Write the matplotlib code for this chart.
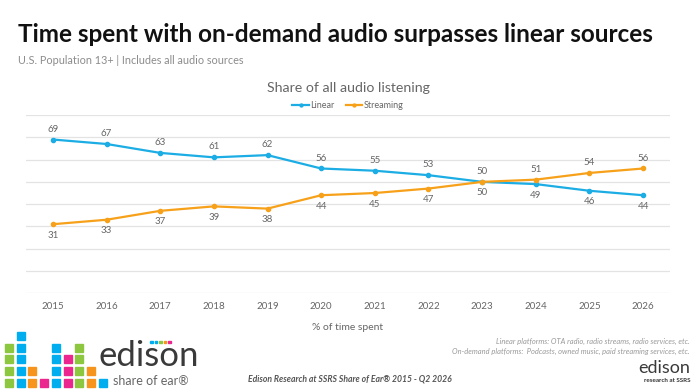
import matplotlib.pyplot as plt
from matplotlib.patches import Rectangle

years = ['2015', '2016', '2017', '2018', '2019', '2020', '2021', '2022', '2023', '2024', '2025', '2026']
linear = [69, 67, 63, 61, 62, 56, 55, 53, 50, 49, 46, 44]
streaming = [31, 33, 37, 39, 38, 44, 45, 47, 50, 51, 54, 56]

blue = '#1cade4'
orange = '#f7a11a'
gray = '#666666'

plt.rcParams['font.family'] = ['Lato', 'DejaVu Sans']

fig = plt.figure(figsize=(6.96, 3.92), dpi=100)
ax = fig.add_axes([0.0374, 0.2518, 0.9252, 0.4548])

x = list(range(len(years)))
ax.plot(x, linear, color=blue, lw=1.6, marker='o', ms=3, label='Linear')
ax.plot(x, streaming, color=orange, lw=1.6, marker='o', ms=3, label='Streaming')

# labels go above the higher series, below the lower one
for i in x:
    lin_up = linear[i] > streaming[i]
    ax.annotate(str(linear[i]), (i, linear[i]), xytext=(0, 7.5 if lin_up else -8),
                textcoords='offset points', ha='center', va='center', fontsize=7, color=gray)
    ax.annotate(str(streaming[i]), (i, streaming[i]), xytext=(0, -8 if lin_up else 7.5),
                textcoords='offset points', ha='center', va='center', fontsize=7, color=gray)

ax.set_xlim(-0.5, len(years) - 0.5)
ax.set_ylim(0, 80)
ax.set_yticks(range(0, 81, 10))
ax.set_yticklabels([])
ax.set_xticks(x)
ax.set_xticklabels(years)
ax.tick_params(axis='both', length=0, labelsize=7, colors=gray)
ax.tick_params(axis='x', pad=6)
ax.grid(axis='y', color='#e3e3e3', lw=0.9)
ax.set_axisbelow(True)
for s in ax.spines.values():
    s.set_visible(False)

fig.legend(loc='center', bbox_to_anchor=(0.5, 1 - 106 / 392), ncol=2, frameon=False,
           fontsize=6.5, labelcolor=gray, handlelength=1.8, handletextpad=0.2,
           columnspacing=1.2, markerscale=0.7)

# titles
fig.text(18 / 696, 1 - 35 / 392, 'Time spent with on-demand audio surpasses linear sources',
         fontsize=17.5, fontweight='bold', color='#111111', va='center')
fig.text(18 / 696, 1 - 60 / 392, 'U.S. Population 13+ | Includes all audio sources',
         fontsize=7.8, color='#8c8c8c', va='center')
fig.text(0.5, 1 - 88 / 392, 'Share of all audio listening', fontsize=10.2, color=gray,
         ha='center', va='center')
fig.text(0.5, 1 - 327 / 392, '% of time spent', fontsize=7.5, color=gray, ha='center', va='center')

# footnotes
fig.text(690 / 696, 1 - 341 / 392, 'Linear platforms: OTA radio, radio streams, radio services, etc.',
         fontsize=5.4, color='#999999', style='italic', ha='right', va='center')
fig.text(690 / 696, 1 - 351 / 392,
         'On-demand platforms:  Podcasts, owned music, paid streaming services, etc.',
         fontsize=5.4, color='#999999', style='italic', ha='right', va='center')
fig.text(248 / 696, 1 - 379 / 392, 'Edison Research at SSRS Share of Ear\u00ae 2015 - Q2 2026',
         fontsize=6.2, color='#555555', style='italic', fontweight='bold', va='center')

# edison share of ear logo
green, cyan, lorange, pink = '#8dc63f', '#00aeef', '#f7941d', '#ec268f'
cols = [(green, 4), (cyan, 5), (lorange, 2), (pink, 1), (cyan, 4),
        (pink, 3), (green, 4), (lorange, 2), (cyan, 1)]
W, H = 696, 392
for c, (col, h) in enumerate(cols):
    for r in range(h):
        cx = 5 + c * 11.7
        cy = H - (386.5 - r * 11.6)
        fig.patches.append(Rectangle((cx / W, cy / H), 8 / W, 8 / H, color=col,
                                     transform=fig.transFigure, figure=fig))
fig.text(99 / W, 1 - 366 / H, 'edison', fontsize=25, color='#3a3a3a', va='baseline')
fig.text(113 / W, 1 - 381 / H, 'share of ear\u00ae', fontsize=9, color='#666666', va='center')
for k, dc in enumerate([cyan, cyan, green, lorange, pink]):
    fig.patches.append(Rectangle(((150 + k * 4.5) / W, 1 - 343 / H), 2.5 / W, 2.5 / H, color=dc,
                                 transform=fig.transFigure, figure=fig))

# edison research at ssrs logo
fig.text(690 / W, 1 - 368 / H, 'edison', fontsize=13, color='#3a3a3a', ha='right', va='center')
fig.text(690 / W, 1 - 380 / H, 'research at SSRS', fontsize=4.5, color='#333333',
         ha='right', va='center', fontweight='bold')

fig.savefig('out.png', dpi=100)
